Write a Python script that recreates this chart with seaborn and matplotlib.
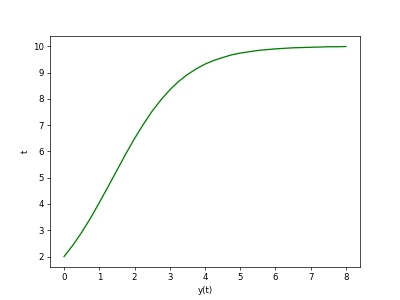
import matplotlib
matplotlib.use("Agg")
import matplotlib.pyplot as plt
import seaborn as sns
import pandas as pd

time_values = [0.0, 0.25, 0.5, 0.75, 1.0, 1.25, 1.5, 1.75, 2.0, 2.25, 2.5, 2.75,
               3.0, 3.25, 3.5, 3.75, 4.0, 4.25, 4.5, 4.75, 5.0, 5.25, 5.5, 5.75,
               6.0, 6.25, 6.5, 6.75, 7.0, 7.25, 7.5, 7.75, 8.0]
y_values = [2.00, 2.43, 2.92, 3.46, 4.05, 4.66, 5.28, 5.90, 6.49, 7.03, 7.53, 7.96,
            8.34, 8.66, 8.92, 9.14, 9.32, 9.46, 9.57, 9.67, 9.74, 9.79, 9.84, 9.87,
            9.90, 9.92, 9.94, 9.95, 9.96, 9.97, 9.98, 9.98, 9.99]

df = pd.DataFrame({"x": time_values, "y": y_values})

fig, ax = plt.subplots(figsize=(6.4, 4.8), dpi=62.5)
sns.lineplot(data=df, x="x", y="y", color="green", ax=ax, linewidth=1.5)
ax.set_xlabel("y(t)")
ax.set_ylabel("t")
fig.savefig("out.png", dpi=62.5)
